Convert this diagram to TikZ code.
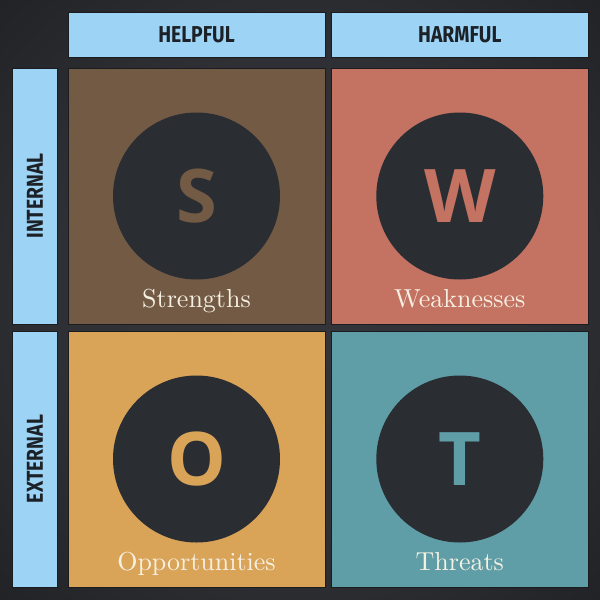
\documentclass[tikz,border=0pt]{standalone}
\usepackage{fontspec}
\newfontfamily\letterfont{Open Sans}[UprightFont=* Bold]
\newfontfamily\headfont{Fira Sans}[UprightFont=* Bold]
\newfontfamily\labelfont{lmroman10-regular.otf}
\definecolor{bgin}{HTML}{33353A}
\definecolor{bgout}{HTML}{161618}
\definecolor{headblue}{HTML}{9DD3F5}
\definecolor{headtext}{HTML}{1C2127}
\definecolor{sbrown}{HTML}{735A45}
\definecolor{wsalmon}{HTML}{C47262}
\definecolor{ogold}{HTML}{D9A358}
\definecolor{tteal}{HTML}{5F9EA7}
\definecolor{disc}{HTML}{2A2D32}
\definecolor{cream}{HTML}{F6F0E2}
\definecolor{edge}{HTML}{1A1C1F}
\pgfdeclareradialshading{bgglow}{\pgfpoint{0bp}{0bp}}{%
  color(0bp)=(bgin); color(20bp)=(bgin!85!bgout); color(50bp)=(bgout)}
\tikzset{
  headbox/.style={draw=edge, line width=0.8pt, fill=headblue, inner sep=0pt,
    text=headtext, font=\headfont\fontsize{23}{23}\selectfont},
  hbox/.style={headbox, minimum width=257pt, minimum height=45pt},
  vbox/.style={headbox, minimum width=256pt, minimum height=45pt},
  quad/.style={draw=edge, line width=0.8pt, inner sep=0pt, minimum width=257pt, minimum height=256pt},
  disc/.style={circle, fill=disc, minimum size=167pt, inner sep=0pt},
  bigletter/.style={font=\letterfont\fontsize{74}{74}\selectfont, inner sep=0pt},
  qlabel/.style={font=\labelfont\fontsize{26}{26}\selectfont, text=cream, anchor=base, inner sep=0pt}
}
\newcommand{\narrowtext}[1]{\scalebox{0.84}[1]{#1}}
\begin{document}
\begin{tikzpicture}[x=1pt,y=-1pt]
  \useasboundingbox (0,0) rectangle (600,600);
  \shade[shading=bgglow] (0,0) rectangle (600,600);
  % headers
  \node[hbox] (helpful) at (196.5,34.8) {\narrowtext{HELPFUL}};
  \node[hbox] (harmful) at (459.8,34.8) {\narrowtext{HARMFUL}};
  \node[vbox, rotate=90] (internal) at (35,196) {\narrowtext{INTERNAL}};
  \node[vbox, rotate=90] (external) at (35,459) {\narrowtext{EXTERNAL}};
  % quadrants
  \node[quad, fill=sbrown] (qs) at (196.5,196) {};
  \node[quad, fill=wsalmon] (qw) at (459.8,196) {};
  \node[quad, fill=ogold] (qo) at (196.5,459) {};
  \node[quad, fill=tteal] (qt) at (459.8,459) {};
  % discs
  \node[disc] (ds) at (qs.center) {};
  \node[disc] (dw) at (qw.center) {};
  \node[disc] (do) at (qo.center) {};
  \node[disc] (dt) at (qt.center) {};
  % letters
  \node[bigletter, text=sbrown] (ls) at (ds.center) {S};
  \node[bigletter, text=wsalmon] (lw) at (dw.center) {W};
  \node[bigletter, text=ogold] (lo) at (do.center) {O};
  \node[bigletter, text=tteal] (lt) at (dt.center) {T};
  % labels
  \node[qlabel] (ts) at (196.5,307) {Strengths};
  \node[qlabel] (tw) at (459.8,307) {Weaknesses};
  \node[qlabel] (to) at (196.5,570) {Opportunities};
  \node[qlabel] (tt) at (459.8,570) {Threats};
\end{tikzpicture}
\end{document}
